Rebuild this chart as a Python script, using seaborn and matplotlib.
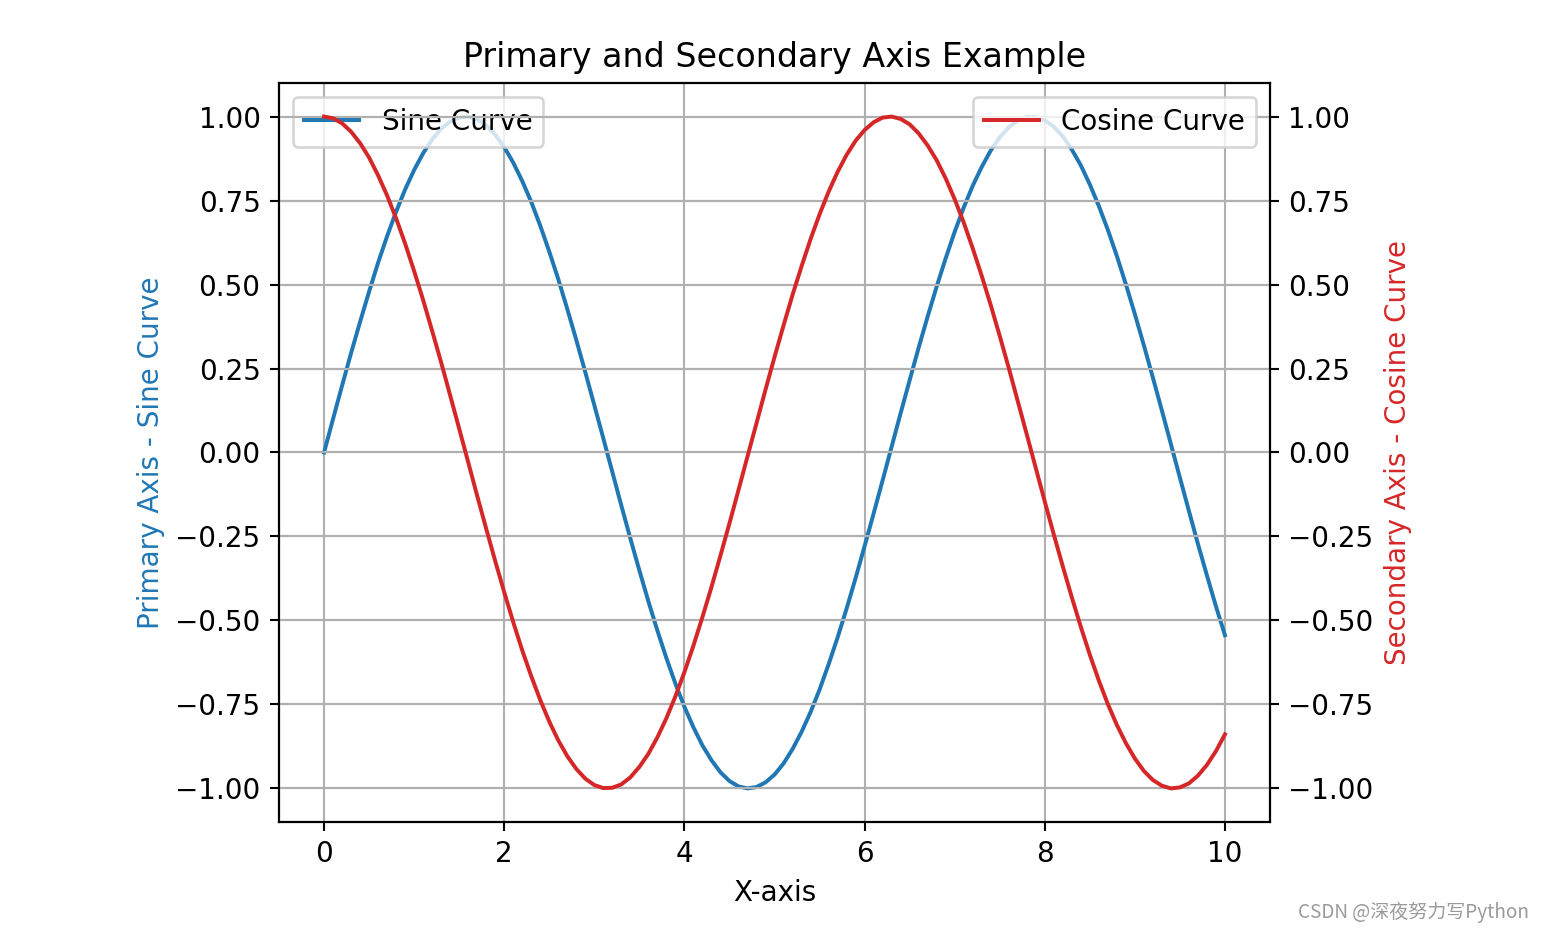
import matplotlib
matplotlib.use("Agg")
import matplotlib.pyplot as plt
import seaborn as sns
import pandas as pd

# значения (шаг 0.1)
x_vals = [0.0, 0.1, 0.2, 0.3, 0.4, 0.5, 0.6, 0.7, 0.8, 0.9,
          1.0, 1.1, 1.2, 1.3, 1.4, 1.5, 1.6, 1.7, 1.8, 1.9,
          2.0, 2.1, 2.2, 2.3, 2.4, 2.5, 2.6, 2.7, 2.8, 2.9,
          3.0, 3.1, 3.2, 3.3, 3.4, 3.5, 3.6, 3.7, 3.8, 3.9,
          4.0, 4.1, 4.2, 4.3, 4.4, 4.5, 4.6, 4.7, 4.8, 4.9,
          5.0, 5.1, 5.2, 5.3, 5.4, 5.5, 5.6, 5.7, 5.8, 5.9,
          6.0, 6.1, 6.2, 6.3, 6.4, 6.5, 6.6, 6.7, 6.8, 6.9,
          7.0, 7.1, 7.2, 7.3, 7.4, 7.5, 7.6, 7.7, 7.8, 7.9,
          8.0, 8.1, 8.2, 8.3, 8.4, 8.5, 8.6, 8.7, 8.8, 8.9,
          9.0, 9.1, 9.2, 9.3, 9.4, 9.5, 9.6, 9.7, 9.8, 9.9, 10.0]
sine_vals = [0.000, 0.100, 0.199, 0.296, 0.389, 0.479, 0.565, 0.644, 0.717, 0.783,
             0.841, 0.891, 0.932, 0.964, 0.985, 0.997, 1.000, 0.992, 0.974, 0.946,
             0.909, 0.863, 0.808, 0.746, 0.675, 0.598, 0.516, 0.427, 0.335, 0.239,
             0.141, 0.042, -0.058, -0.158, -0.256, -0.351, -0.443, -0.530, -0.612, -0.688,
             -0.757, -0.818, -0.872, -0.916, -0.952, -0.978, -0.994, -1.000, -0.996, -0.982,
             -0.959, -0.926, -0.883, -0.832, -0.773, -0.706, -0.631, -0.551, -0.465, -0.374,
             -0.279, -0.182, -0.083, 0.017, 0.117, 0.215, 0.312, 0.405, 0.494, 0.578,
             0.657, 0.729, 0.794, 0.850, 0.899, 0.938, 0.968, 0.988, 0.999, 0.999,
             0.989, 0.970, 0.941, 0.902, 0.855, 0.798, 0.734, 0.663, 0.585, 0.501,
             0.412, 0.319, 0.223, 0.125, 0.025, -0.075, -0.174, -0.272, -0.366, -0.458, -0.544]
cosine_vals = [1.000, 0.995, 0.980, 0.955, 0.921, 0.878, 0.825, 0.765, 0.697, 0.622,
               0.540, 0.454, 0.362, 0.268, 0.170, 0.071, -0.029, -0.129, -0.227, -0.323,
               -0.416, -0.505, -0.589, -0.666, -0.737, -0.801, -0.857, -0.904, -0.942, -0.971,
               -0.990, -0.999, -0.998, -0.988, -0.967, -0.936, -0.897, -0.848, -0.791, -0.726,
               -0.654, -0.575, -0.490, -0.401, -0.307, -0.211, -0.112, -0.012, 0.087, 0.187,
               0.284, 0.378, 0.469, 0.554, 0.635, 0.709, 0.776, 0.835, 0.886, 0.928,
               0.960, 0.983, 0.997, 1.000, 0.993, 0.977, 0.950, 0.914, 0.870, 0.816,
               0.754, 0.685, 0.608, 0.526, 0.439, 0.347, 0.252, 0.153, 0.054, -0.046,
               -0.146, -0.244, -0.339, -0.431, -0.519, -0.602, -0.679, -0.749, -0.811, -0.865,
               -0.911, -0.948, -0.975, -0.992, -1.000, -0.997, -0.985, -0.962, -0.930, -0.889, -0.839]

df = pd.DataFrame({'x': x_vals, 'sine': sine_vals, 'cosine': cosine_vals})

plt.rcParams['font.size'] = 10.5

dpi = 190
fig = plt.figure(figsize=(1544 / dpi, 932 / dpi), dpi=dpi)
ax1 = fig.add_axes([279 / 1544, 1 - 822 / 932, (1270 - 279) / 1544, (822 - 83) / 932])

# основная ось - синус
sns.lineplot(data=df, x='x', y='sine', ax=ax1, color='tab:blue', label='Sine Curve')
ax1.set_xlabel('X-axis')
ax1.set_ylabel('Primary Axis - Sine Curve', color='tab:blue')
ax1.grid(True)
ax1.legend(loc='upper left')

# вторичная ось - косинус
ax2 = ax1.twinx()
sns.lineplot(data=df, x='x', y='cosine', ax=ax2, color='tab:red', label='Cosine Curve')
ax2.set_ylabel('Secondary Axis - Cosine Curve', color='tab:red')
ax2.grid(True)
ax2.legend(loc='upper right')

ax1.set_ylim(-1.1, 1.1)
ax2.set_ylim(-1.1, 1.1)
ax1.set_xlim(-0.5, 10.5)

ax1.set_title('Primary and Secondary Axis Example')

fig.text(1529 / 1544, 1 - 912 / 932, 'CSDN @深夜努力写Python', ha='right', va='center',
         fontsize=7.2, color='#9a9a9a', family=['Noto Sans CJK SC', 'DejaVu Sans'])

fig.savefig('out.png', dpi=dpi)
